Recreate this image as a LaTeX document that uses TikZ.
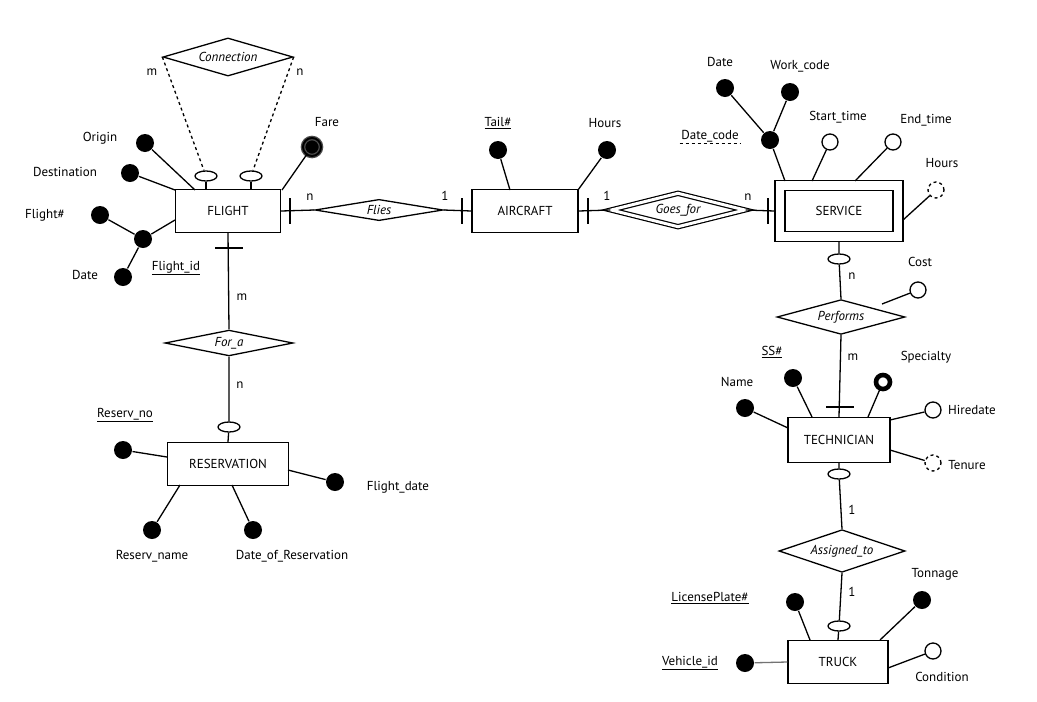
\documentclass[tikz,border=0pt]{standalone}
\usepackage{fontspec}
\setmainfont{PT Sans}
\usetikzlibrary{shapes.geometric,calc}
\begin{document}
\begin{tikzpicture}[x=1pt,y=-1pt,line width=1.3pt,font=\fontsize{13}{15}\selectfont,
 ent/.style={draw,rectangle,minimum width=#1,minimum height=43,inner sep=0},
 rel/.style={draw,diamond,aspect=2.05,minimum width=#1,inner sep=0,font=\fontsize{13}{15}\selectfont\itshape},
 fa/.style={circle,fill=black,minimum size=18,inner sep=0},
 oa/.style={circle,draw,fill=white,minimum size=16,inner sep=0},
 oval/.style={ellipse,draw,fill=white,minimum width=22,minimum height=10,inner sep=0},
 lab/.style={inner sep=1},
 ul/.style={inner sep=1,path picture={}},
 bar/.style={line width=1.3pt}]
\useasboundingbox (0,0) rectangle (1037,702);
% entities
\node[ent=105] (flight) at (228,211) {FLIGHT};
\node[ent=106] (aircraft) at (525,211) {AIRCRAFT};
\node[draw,rectangle,minimum width=128,minimum height=61,inner sep=0] (service) at (839,211) {};
\node[draw,rectangle,minimum width=108,minimum height=41,inner sep=0] (servicei) at (839,211) {SERVICE};
\node[ent=102,minimum height=45] (tech) at (839,440) {TECHNICIAN};
\node[ent=100] (truck) at (838,662) {TRUCK};
\node[ent=121] (resv) at (228,464) {RESERVATION};
% relationships
\node[rel=130] (conn) at (228,57) {Connection};
\node[rel=128] (flies) at (379,210) {Flies};
\node[rel=134,double,double distance=3pt,line width=1.2pt] (goes) at (678,210) {Goes\_for};
\node[rel=128] (perf) at (841,317) {Performs};
\node[rel=126] (assn) at (842,551) {Assigned\_to};
\node[rel=128] (fora) at (229,343) {For\_a};
% Connection
\node[oval] (o1) at (206,176) {};
\node[oval] (o2) at (251,176) {};
\draw[dashed] (conn.west) -- (o1); \draw[dashed] (conn.east) -- (o2);
\draw (o1) -- (o1|-flight.north); \draw (o2) -- (o2|-flight.north);
\node[lab] at (152,72) {m}; \node[lab] at (300,72) {n};
% flight attributes
\node[fa] (origin) at (145,143) {}; \node[lab] at (100,138) {Origin};
\draw (origin) -- (195,190);
\node[fa] (dest) at (130,173) {}; \node[lab] at (65,172) {Destination};
\draw (dest) -- (175,190);
\node[fa] (fid) at (143,239) {};
\draw (fid) -- (175,220);
\node[fa] (fnum) at (100,215) {}; \node[lab] at (45,215) {Flight\#};
\node[fa] (fdate) at (123,277) {}; \node[lab] at (85,275) {Date};
\draw (fnum) -- (fid) -- (fdate);
\node[lab] at (176,268) {\underline{Flight\_id}};
\node[fa,draw=black!70,double=black,double distance=2pt] (fare) at (312,147) {}; \node[lab] at (327,122) {Fare};
\draw (fare) -- (282,190);
% Flies
\draw (flight.east) -- (flies.west); \draw (290,198) -- (290,224);
\node[lab] at (310,197) {n};
\draw (flies.east) -- (aircraft.west); \draw (462,198) -- (462,224);
\node[lab] at (445,196) {1};
\node[fa] (tail) at (498,150) {}; \node[lab] at (498,123) {\underline{Tail\#}};
\draw (tail) -- (510,190);
\node[fa] (hrs) at (607,150) {}; \node[lab] at (605,123) {Hours};
\draw (hrs) -- (578,190);
% Goes_for
\draw (aircraft.east) -- (goes.west); \draw (588,198) -- (588,224);
\node[lab] at (607,196) {1};
\draw (goes.east) -- (service.west); \draw (768,198) -- (768,224);
\node[lab] at (748,197) {n};
% service attributes
\node[fa] (dc) at (770,140) {};
\draw (dc) -- (785,181);
\node[fa] (sdate) at (725,88) {}; \node[lab] at (720,62) {Date};
\node[fa] (wc) at (790,92) {}; \node[lab] at (800,66) {Work\_code};
\draw (sdate) -- (dc) -- (wc);
\node[lab] (dcl) at (710,136) {Date\_code};
\draw[dashed,line width=1pt] (dcl.south west) -- (dcl.south east);
\node[oa] (st) at (830,142) {}; \node[lab] at (838,117) {Start\_time};
\draw (st) -- (812,181);
\node[oa] (et) at (893,142) {}; \node[lab] at (926,120) {End\_time};
\draw (et) -- (855,181);
\node[oa,dashed] (sh) at (936,190) {}; \node[lab] at (942,163) {Hours};
\draw (sh) -- (903,220);
% Performs
\node[oval] (o3) at (839,259) {};
\draw (service.south) -- (o3) -- (perf.north);
\node[lab] at (852,276) {n};
\node[oa] (cost) at (918,290) {}; \node[lab] at (920,262) {Cost};
\draw (cost) -- (882,304);
\draw (perf.south) -- (tech.north); \draw (826,407) -- (854,407);
\node[lab] at (853,357) {m};
% technician attributes
\node[fa] (ssn) at (793,378) {}; \node[lab] at (772,352) {\underline{SS\#}};
\draw (ssn) -- (812,417);
\node[fa] (name) at (745,408) {}; \node[lab] at (737,382) {Name};
\draw (name) -- (788,428);
\node[fa,draw=black,fill=white,double=black,double distance=2pt,minimum size=14] (spec) at (883,382) {}; \node[lab] at (926,357) {Specialty};
\draw (spec) -- (868,417);
\node[oa] (hire) at (933,410) {}; \node[lab] at (972,410) {Hiredate};
\draw (hire) -- (890,420);
\node[oa,dashed] (ten) at (933,463) {}; \node[lab] at (967,465) {Tenure};
\draw (ten) -- (890,450);
% Assigned_to
\node[oval] (o4) at (839,474) {};
\draw (tech.south) -- (o4) -- (assn.north);
\node[lab] at (852,510) {1};
\node[oval] (o5) at (839,626) {};
\draw (assn.south) -- (o5) -- (truck.north);
\node[lab] at (852,592) {1};
% truck attributes
\node[fa] (lp) at (795,602) {}; \node[lab] at (710,598) {\underline{LicensePlate\#}};
\draw (lp) -- (810,640);
\node[fa] (ton) at (922,600) {}; \node[lab] at (935,574) {Tonnage};
\draw (ton) -- (880,640);
\node[fa] (vid) at (745,663) {}; \node[lab] at (690,663) {\underline{Vehicle\_id}};
\draw[black!55] (vid) -- (truck.west);
\node[oa] (cond) at (933,651) {}; \node[lab] at (942,677) {Condition};
\draw (cond) -- (888,668);
% For_a
\draw (flight.south) -- (fora.north); \draw (215,248) -- (243,248);
\node[lab] at (242,297) {m};
\node[oval] (o6) at (229,427) {};
\draw (fora.south) -- (o6) -- (resv.north);
\node[lab] at (240,385) {n};
% reservation attributes
\node[fa] (rno) at (123,450) {}; \node[lab] at (125,415) {\underline{Reserv\_no}};
\draw (rno) -- (167,457);
\node[fa] (rname) at (152,530) {}; \node[lab] at (152,556) {Reserv\_name};
\draw (rname) -- (180,485);
\node[fa] (rdate) at (253,530) {}; \node[lab] at (292,556) {Date\_of\_Reservation};
\draw (rdate) -- (232,485);
\node[fa] (fdt) at (335,482) {}; \node[lab] at (398,487) {Flight\_date};
\draw (fdt) -- (288,470);
\end{tikzpicture}
\end{document}
